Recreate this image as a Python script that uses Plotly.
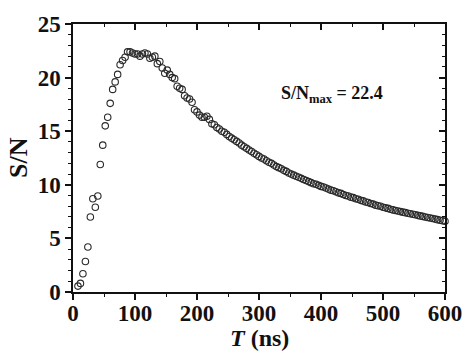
import plotly.graph_objects as go

T_ns = list(range(8, 601, 4))

SN = [
    0.55, 0.8, 1.7, 2.85, 4.2, 7.0, 8.7, 7.9, 8.95, 11.9,            # 8-44
    13.7, 15.5, 16.3, 17.6, 18.9, 19.6, 20.3, 21.2, 21.6, 21.9,      # 48-84
    22.4, 22.4, 22.3, 22.2, 22.2, 22.0, 22.2, 22.3, 22.2, 21.8,      # 88-124
    21.9, 22.0, 21.3, 21.5, 20.9, 20.4, 20.7, 20.3, 20.0, 19.9,      # 128-164
    19.2, 19.0, 18.9, 18.3, 18.1, 18.0, 17.7, 17.0, 16.8, 16.5,      # 168-204
    16.3, 16.3, 16.4, 16.1, 15.7, 15.6, 15.35, 15.2, 15.0, 14.9,     # 208-244
    14.7, 14.5, 14.35, 14.2, 14.05, 13.9, 13.7, 13.55, 13.4, 13.25,  # 248-284
    13.1, 12.95, 12.8, 12.65, 12.5, 12.4, 12.25, 12.1, 12.0, 11.85,  # 288-324
    11.7, 11.6, 11.5, 11.35, 11.25, 11.1, 11.0, 10.9, 10.8, 10.7,    # 328-364
    10.6, 10.5, 10.4, 10.3, 10.2, 10.1, 10.05, 9.95, 9.85, 9.8,      # 368-404
    9.7, 9.6, 9.5, 9.45, 9.35, 9.25, 9.2, 9.1, 9.0, 8.95,            # 408-444
    8.85, 8.8, 8.7, 8.65, 8.55, 8.5, 8.4, 8.35, 8.25, 8.2,           # 448-484
    8.1, 8.05, 8.0, 7.9, 7.85, 7.8, 7.72, 7.66, 7.6, 7.55,           # 488-524
    7.5, 7.45, 7.4, 7.35, 7.3, 7.25, 7.2, 7.15, 7.1, 7.05,           # 528-564
    7.0, 6.95, 6.9, 6.85, 6.8, 6.75, 6.7, 6.65, 6.6,                 # 568-600
]

x_ticks = [0, 100, 200, 300, 400, 500, 600]
y_ticks = [0, 5, 10, 15, 20, 25]

FONT = "Liberation Serif"
INK = "#111111"

fig = go.Figure()
fig.add_trace(go.Scatter(
    x=T_ns, y=SN, mode="markers", cliponaxis=False,
    marker=dict(symbol="circle-open", size=6.5, color="#2a2a2a",
                line=dict(width=1.1, color="#2a2a2a")),
    showlegend=False, hoverinfo="skip",
))
# invisible traces for the extra tick-only axes
fig.add_trace(go.Scatter(
    x=T_ns, y=SN, mode="markers", xaxis="x2", yaxis="y2",
    marker=dict(opacity=0), showlegend=False, hoverinfo="skip",
))
fig.add_trace(go.Scatter(
    x=T_ns, y=SN, mode="markers", xaxis="x3", yaxis="y",
    marker=dict(opacity=0), showlegend=False, hoverinfo="skip",
))

axis_common = dict(showgrid=False, zeroline=False, showline=True,
                   linecolor=INK, linewidth=1.5, tickcolor=INK, tickwidth=1.5)
tickfont = dict(family=FONT, size=23, weight="bold", color=INK)

fig.update_layout(
    width=474, height=353,
    margin=dict(l=73, r=27, t=20, b=61),
    paper_bgcolor="white", plot_bgcolor="white",
    font=dict(family=FONT, color=INK),
    # bottom axis: labels only (ticks drawn by xaxis3)
    xaxis=dict(
        range=[0, 600], tickvals=x_ticks, ticks="",
        tickfont=tickfont, ticklabelstandoff=0,
        **axis_common,
    ),
    xaxis3=dict(
        overlaying="x", side="bottom", anchor="y", matches="x",
        range=[0, 600], tickvals=x_ticks, ticks="outside", ticklen=6, showticklabels=False,
        minor=dict(dtick=50, tick0=0, ticks="outside", ticklen=3.5, tickcolor=INK, tickwidth=1.2),
        **axis_common,
    ),
    yaxis=dict(
        range=[0, 25], tickvals=y_ticks, ticks="outside", ticklen=6,
        minor=dict(dtick=1, tick0=0, ticks="outside", ticklen=3.5, tickcolor=INK, tickwidth=1.2),
        tickfont=tickfont,
        **axis_common,
    ),
    xaxis2=dict(
        overlaying="x", side="top", anchor="y", matches="x",
        range=[0, 600], tickvals=x_ticks, ticks="inside", ticklen=6, showticklabels=False,
        minor=dict(dtick=50, tick0=0, ticks="inside", ticklen=3.5, tickcolor=INK, tickwidth=1.2),
        **axis_common,
    ),
    yaxis2=dict(
        overlaying="y", side="right", anchor="x", matches="y",
        range=[0, 25], tickvals=y_ticks, ticks="inside", ticklen=6, showticklabels=False,
        minor=dict(dtick=1, tick0=0, ticks="inside", ticklen=3.5, tickcolor=INK, tickwidth=1.2),
        **axis_common,
    ),
    annotations=[
        dict(x=332, y=18.4, xref="x", yref="y", xanchor="left", yanchor="middle",
             text="S/N<sub>max</sub> = 22.4", showarrow=False,
             font=dict(family=FONT, size=18, weight="bold", color=INK)),
        # x-axis title
        dict(x=0.5, y=0, xref="paper", yref="paper", xanchor="center", yanchor="top",
             yshift=-31, text="<i>T</i> (ns)", showarrow=False,
             font=dict(family=FONT, size=24, weight="bold", color=INK)),
        # y-axis title
        dict(x=0, y=0.5, xref="paper", yref="paper", xanchor="center", yanchor="middle",
             xshift=-55, textangle=-90, text="S/N", showarrow=False,
             font=dict(family=FONT, size=26, weight="bold", color=INK)),
    ],
)

fig.write_html("out.html")
